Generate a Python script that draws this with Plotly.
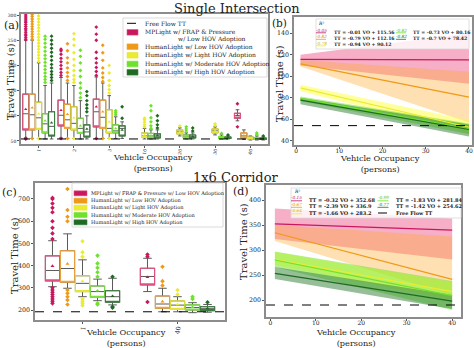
import plotly.graph_objects as go

W, H = 474, 348
FONT = "DejaVu Serif"

# ---------------- data ----------------
SERIES = ["MPLight w/ FRAP & Pressure w/ Low HOV Adoption",
          "HumanLight w/ Low HOV Adoption",
          "HumanLight w/ Light HOV Adoption",
          "HumanLight w/ Moderate HOV Adoption",
          "HumanLight w/ High HOV Adoption"]
MAIN_COLORS = ["#c8175d", "#ee9a16", "#ecec2e", "#6ee22a", "#1f6a21"]
EDGE_COLORS = ["#e2507f", "#f0a43c", "#e3e33a", "#7be040", "#3d7d3f"]
BAND_COLORS = ["rgba(236,64,122,0.42)", "rgba(255,167,38,0.35)",
               "rgba(255,255,40,0.45)", "rgba(110,226,42,0.5)",
               "rgba(46,125,50,0.5)"]

A_CATS = ["1", "2", "3", "10", "20", "30", "40"]
A_FREE_FLOW = 54
# rows: [category index, lower whisker, q1, median, q3, upper whisker, mean]
A_MP = [[0, 55, 72, 104, 143, 250, 113], [1, 56, 80, 101, 131, 176, 111],
        [2, 55, 78, 108, 133, 177, 118], [6, 90, 95, 100, 105, 112, 101]]
A_LOW = [[0, 55, 72, 102, 143, 250, 116], [1, 55, 75, 92, 123, 165, 103],
         [2, 55, 75, 97, 131, 165, 108], [6, 53, 56, 60, 66, 72, 61]]
A_LIGHT = [[0, 55, 73, 96, 127, 205, 104], [1, 55, 72, 85, 118, 160, 96],
           [2, 55, 66, 75, 112, 140, 88], [3, 54, 57, 60, 66, 75, 62],
           [4, 60, 64, 68, 72, 76, 68], [5, 62, 66, 70, 74, 78, 70],
           [6, 52, 54, 56, 58, 60, 56]]
A_MOD = [[0, 54, 66, 84, 104, 160, 90], [1, 54, 65, 75, 95, 130, 80],
         [2, 55, 66, 70, 82, 98, 75], [3, 54, 56, 60, 65, 72, 61],
         [4, 54, 56, 58, 62, 66, 59], [5, 54, 55, 57, 59, 62, 57],
         [6, 52, 53, 55, 57, 60, 55]]
A_HIGH = [[0, 54, 60, 79, 108, 165, 86], [1, 54, 58, 68, 82, 100, 74],
          [2, 55, 60, 75, 80, 88, 72], [3, 54, 56, 60, 64, 72, 61],
          [4, 54, 56, 58, 62, 66, 59], [5, 54, 55, 56, 58, 60, 56],
          [6, 52, 53, 55, 56, 58, 55]]
# outliers: [category index, [values]]
A_MP_OUT = [[0, [251, 255, 259, 262, 266, 270, 273, 277, 281, 285, 288, 292, 296, 300, 54, 56]],
            [1, [180, 186, 193, 200, 207, 214, 222, 229, 232, 55]],
            [2, [180, 188, 196, 205, 214, 226, 250, 262, 276, 55]],
            [6, [124, 78]]]
A_LOW_OUT = [[0, [252, 257, 262, 267, 272, 277, 282, 287, 292, 297, 301, 55]],
             [1, [170, 178, 186, 195, 205, 215, 229, 243, 55]],
             [2, [168, 176, 185, 195, 210, 225, 240, 55]]]
A_LIGHT_OUT = [[0, [208, 214, 220, 226, 232, 238, 244, 250, 256, 262, 268, 274, 280, 286, 292, 298, 55]],
               [1, [166, 172, 180, 190, 200, 212, 225, 240, 252, 263, 55]],
               [2, [145, 152, 160, 170, 185, 200, 55]],
               [3, [78, 82, 87, 92, 95]], [4, [80]], [5, [81, 84]]]
A_MOD_OUT = [[0, [166, 172, 178, 185, 192, 199, 206, 213, 220, 228, 236, 244, 252, 258]],
             [1, [136, 145, 155, 165, 178, 190, 205, 218, 230]],
             [2, [102, 106, 110]], [3, [75, 80, 88, 96, 110, 120]],
             [4, [70, 74, 78]], [5, [65]], [6, [63, 66]]]
A_HIGH_OUT = [[0, [170, 176, 182, 188, 195, 202, 210, 218, 226, 234, 242, 250, 258]],
              [1, [108, 115, 122, 130, 140, 148]], [2, [95, 118]],
              [3, [76, 82, 90, 100]], [4, [70, 76]], [5, [62]], [6, [60]]]

C_CATS = ["1", "40"]
C_FREE_FLOW = 192
C_MP = [[0, 305, 331, 378, 444, 512, 398], [1, 283, 313, 351, 388, 433, 348]]
C_LOW = [[0, 298, 325, 387, 467, 543, 408], [1, 192, 208, 227, 263, 298, 238]]
C_LIGHT = [[0, 260, 283, 320, 354, 426, 330], [1, 192, 203, 222, 241, 260, 225]]
C_MOD = [[0, 242, 257, 283, 308, 339, 287], [1, 188, 200, 211, 223, 233, 213]]
C_HIGH = [[0, 223, 235, 260, 287, 343, 262], [1, 190, 197, 206, 215, 225, 207]]
C_MP_OUT = [[0, [520, 545, 570, 600, 640, 660, 680, 700, 705, 300, 290, 280, 270, 260, 250, 240, 230]],
            [1, [450, 440, 236]]]
C_LOW_OUT = [[0, [600, 620, 650, 745, 290, 275, 260, 245, 225]], [1, [310, 330, 395]]]
C_LIGHT_OUT = [[0, [440, 460, 510, 250, 240, 230, 220]], [1, [270, 290]]]
C_MOD_OUT = [[0, [350, 370, 390, 410, 445, 230, 225]], [1, [250, 260]]]
C_HIGH_OUT = [[0, [350, 215, 210]], [1, [235]]]

B_FREE_FLOW = 54
B_SLOPE = [-0.01, -0.79, -0.94, -0.73, -0.7]
B_INTERCEPT = [115.56, 112.16, 90.12, 80.16, 78.42]
B_R2 = ["-0.05", "-0.82", "-0.78", "-0.82", "-0.82"]
B_VO = [1, 40]
B_UPPER = [[120, 140], [115, 104], [92, 59], [81, 56], [80, 55]]
B_LOWER = [[110, 93], [109, 57], [86, 47], [77, 46], [74, 44]]

D_FREE_FLOW = 190
D_SLOPE = [-0.32, -2.39, -1.66, -1.83, -1.42]
D_INTERCEPT = [352.68, 336.9, 283.2, 281.84, 254.62]
D_R2 = ["-0.15", "-0.67", "-0.64", "-0.99", "-0.77"]
D_VO = [1, 40]
D_UPPER = [[383, 363], [350, 327], [296, 235], [297, 238], [266, 210]]
D_LOWER = [[322, 281], [318, 210], [270, 200], [266, 180], [242, 182]]

# ---------------- helpers ----------------
def X(px):
    return px / W


def Y(py):
    return 1 - py / H


fig = go.Figure()
WHISKER = "#5a5a5a"


def add_boxes(rows, outs, h, step, width, xa, ya, msize):
    pos = [r[0] + (h - 2) * step for r in rows]
    lf = [r[1] for r in rows]
    q1 = [r[2] for r in rows]
    med = [r[3] for r in rows]
    q3 = [r[4] for r in rows]
    uf = [r[5] for r in rows]
    mean = [r[6] for r in rows]
    ox, oy = [], []
    for c, vals in outs:
        for v in vals:
            ox.append(c + (h - 2) * step)
            oy.append(v)
    fig.add_trace(go.Scatter(x=ox, y=oy, mode="markers", xaxis=xa, yaxis=ya,
                             marker=dict(symbol="diamond", size=msize, color=MAIN_COLORS[h],
                                         line=dict(width=0)),
                             showlegend=False, hoverinfo="skip"))
    fig.add_trace(go.Box(x=pos, q1=q1, median=med, q3=q3, lowerfence=lf, upperfence=uf,
                         xaxis=xa, yaxis=ya, width=width, fillcolor="rgba(255,255,255,0.92)",
                         line=dict(color=WHISKER, width=1), whiskerwidth=0.6,
                         boxpoints=False, showlegend=False))
    fig.add_trace(go.Box(x=pos, q1=q1, median=q1, q3=q3, lowerfence=q1, upperfence=q3,
                         xaxis=xa, yaxis=ya, width=width, fillcolor="rgba(0,0,0,0)",
                         line=dict(color=EDGE_COLORS[h], width=1.1), whiskerwidth=0,
                         boxpoints=False, showlegend=False))
    fig.add_trace(go.Scatter(x=pos, y=mean, mode="markers", xaxis=xa, yaxis=ya,
                             marker=dict(symbol="triangle-up", size=msize, color=MAIN_COLORS[h]),
                             showlegend=False, hoverinfo="skip"))


A_ROWS = [A_MP, A_LOW, A_LIGHT, A_MOD, A_HIGH]
A_OUTS = [A_MP_OUT, A_LOW_OUT, A_LIGHT_OUT, A_MOD_OUT, A_HIGH_OUT]
C_ROWS = [C_MP, C_LOW, C_LIGHT, C_MOD, C_HIGH]
C_OUTS = [C_MP_OUT, C_LOW_OUT, C_LIGHT_OUT, C_MOD_OUT, C_HIGH_OUT]

for h in range(5):
    add_boxes(A_ROWS[h], A_OUTS[h], h, 0.183, 0.17, "x", "y", 3)
for h in range(5):
    add_boxes(C_ROWS[h], C_OUTS[h], h, 0.158, 0.15, "x3", "y3", 3.5)

fig.add_trace(go.Scatter(x=[-0.5, len(A_CATS) - 0.5], y=[A_FREE_FLOW] * 2, mode="lines",
                         xaxis="x", yaxis="y", line=dict(color="black", width=1, dash="dash"),
                         showlegend=False, hoverinfo="skip"))
fig.add_trace(go.Scatter(x=[-0.5, len(C_CATS) - 0.5], y=[C_FREE_FLOW] * 2, mode="lines",
                         xaxis="x3", yaxis="y3", line=dict(color="black", width=1, dash="dash"),
                         showlegend=False, hoverinfo="skip"))


def add_regression(vo, upper, lower, slope, icpt, free, xa, ya, xr):
    for h in range(5):
        fig.add_trace(go.Scatter(x=vo + vo[::-1], y=upper[h] + lower[h][::-1], fill="toself",
                                 fillcolor=BAND_COLORS[h], line=dict(width=0), mode="lines",
                                 xaxis=xa, yaxis=ya, showlegend=False, hoverinfo="skip"))
    for h in range(5):
        fig.add_trace(go.Scatter(x=vo, y=[slope[h] * v + icpt[h] for v in vo], mode="lines",
                                 line=dict(color=MAIN_COLORS[h], width=1.2),
                                 xaxis=xa, yaxis=ya, showlegend=False, hoverinfo="skip"))
    fig.add_trace(go.Scatter(x=xr, y=[free] * 2, mode="lines", xaxis=xa, yaxis=ya,
                             line=dict(color="black", width=1, dash="dash"),
                             showlegend=False, hoverinfo="skip"))


add_regression(B_VO, B_UPPER, B_LOWER, B_SLOPE, B_INTERCEPT, B_FREE_FLOW, "x2", "y2", [-0.5, 40.7])
add_regression(D_VO, D_UPPER, D_LOWER, D_SLOPE, D_INTERCEPT, D_FREE_FLOW, "x4", "y4", [-0.95, 41.95])

# ---------------- axes ----------------
AX = dict(showline=True, mirror=True, linecolor="#8c8c8c", linewidth=1.5, showgrid=False,
          zeroline=False, ticks="outside", ticklen=2, tickcolor="#555",
          tickfont=dict(family=FONT, size=6.3, color="#222"))


def ax(**kw):
    d = dict(AX)
    d.update(kw)
    return d


fig.update_layout(
    width=W, height=H, margin=dict(l=0, r=0, t=0, b=0),
    paper_bgcolor="white", plot_bgcolor="white", boxmode="overlay",
    font=dict(family=FONT, color="#222"),
    xaxis=ax(domain=[X(21), X(268)], range=[-0.5, 6.5], anchor="y",
             tickvals=list(range(len(A_CATS))), ticktext=A_CATS, tickangle=-80,
             tickfont=dict(family=FONT, size=4.5), ticklabelstandoff=-2),
    yaxis=ax(domain=[Y(144), Y(14)], range=[44, 302], anchor="x",
             tickvals=[50, 100, 150, 200, 250, 300], tickfont=dict(family=FONT, size=4.5)),
    xaxis2=ax(domain=[X(294), X(472)], range=[-0.5, 40.7], anchor="y2",
              tickvals=[0, 10, 20, 30, 40], ticklabelstandoff=-3,
              tickfont=dict(family=FONT, size=6, color="#222")),
    yaxis2=ax(domain=[Y(145), Y(17)], range=[36, 155], anchor="x2",
              tickvals=[40, 60, 80, 100, 120, 140]),
    xaxis3=ax(domain=[X(35), X(225)], range=[-0.5, 1.5], anchor="y3",
              tickvals=[0, 1], ticktext=C_CATS, tickangle=-80, ticklabelstandoff=-2),
    yaxis3=ax(domain=[Y(320), Y(183)], range=[155, 772], anchor="x3",
              tickvals=[200, 300, 400, 500, 600, 700]),
    xaxis4=ax(domain=[X(266), X(461)], range=[-0.95, 41.95], anchor="y4",
              tickvals=[0, 10, 20, 30, 40], ticklabelstandoff=-3,
              tickfont=dict(family=FONT, size=6, color="#222")),
    yaxis4=ax(domain=[Y(317), Y(185)], range=[166, 430], anchor="x4",
              tickvals=[200, 250, 300, 350, 400]),
)

ann = []
shapes = []


def text(px, py, s, size, xanchor="center", color="#222", angle=0):
    ann.append(dict(x=X(px), y=Y(py), xref="paper", yref="paper", text=s, showarrow=False,
                    xanchor=xanchor, yanchor="middle", textangle=angle,
                    font=dict(family=FONT, size=size, color=color)))


text(237, 9, "Single Intersection", 13)
text(236, 177, "1x6 Corridor", 13)
text(11, 25, "(a)", 11)
text(279, 23, "(b)", 10.5)
text(9, 192, "(c)", 11)
text(241, 191, "(d)", 11)
for px, py in [(10, 82), (279, 84), (14, 256), (243, 241)]:
    text(px, py, "Travel Time (s)", 10, angle=-90)
for px, py in [(153, 162.5), (380, 163), (126, 337), (356, 337)]:
    text(px, py, "Vehicle Occupancy<br>(persons)", 8.2)


def rect(x0, y0, x1, y1, fill, line, lw=0.8):
    shapes.append(dict(type="rect", xref="paper", yref="paper", x0=X(x0), x1=X(x1),
                       y0=Y(y1), y1=Y(y0), fillcolor=fill, line=dict(color=line, width=lw)))


def hline(x0, x1, py, color, dash="solid", lw=1):
    shapes.append(dict(type="line", xref="paper", yref="paper", x0=X(x0), x1=X(x1),
                       y0=Y(py), y1=Y(py), line=dict(color=color, width=lw, dash=dash)))


# legend (a)
rect(123, 18, 267, 77, "rgba(255,255,255,0.9)", "#d0d0d0")
hline(127, 138, 23.3, "black", "dash")
text(143, 23.3, "Free Flow TT", 6, "left")
A_LEG_Y = [32.3, 46.7, 55.3, 64, 72.3]
for h in range(5):
    rect(127, A_LEG_Y[h] - 2.8, 138, A_LEG_Y[h] + 2.8, MAIN_COLORS[h], EDGE_COLORS[h], 0.6)
text(143, A_LEG_Y[0], "MPLight w/ FRAP & Pressure", 6, "left")
text(176, 39, "w/ Low HOV Adoption", 6, "left")
for h in range(1, 5):
    text(143, A_LEG_Y[h], SERIES[h], 6, "left")

# legend (c)
rect(72, 183, 223, 227, "rgba(255,255,255,0.9)", "#d0d0d0")
C_LEG_Y = [193.3, 200.7, 207.7, 215, 222.3]
for h in range(5):
    rect(74, C_LEG_Y[h] - 2.5, 87, C_LEG_Y[h] + 2.5, MAIN_COLORS[h], EDGE_COLORS[h], 0.6)
    text(89.3, C_LEG_Y[h], SERIES[h], 5, "left")

R2_TEXT_COLORS = ["#c8175d", "#e08a00", "#c9b800", "#4cbf10", "#1f6a21"]


def eq(a, b):
    return "TT = " + str(a) + " VO + " + str(b)


# legend (b)
rect(316, 19, 469, 49, "rgba(255,255,255,0.8)", "#d8d8d8")
text(321, 23, "<i>R²</i>", 4.5)
B_ROWS_Y = [32, 38.5, 45, 32, 38.5]
B_R2_X = [321, 321, 321, 401, 401]
B_TT_X = [332, 332, 332, 411, 411]
for h in range(5):
    yy = B_ROWS_Y[h]
    text(B_R2_X[h], yy - 2, "<i>" + B_R2[h] + "</i>", 4.3, color=R2_TEXT_COLORS[h])
    hline(B_R2_X[h] - 5, B_R2_X[h] + 5, yy + 0.8, MAIN_COLORS[h], lw=0.8)
    text(B_TT_X[h], yy, "<b>" + eq(B_SLOPE[h], B_INTERCEPT[h]) + "</b>", 4.6, "left")

# legend (d)
rect(291, 188, 461, 218, "rgba(255,255,255,0.8)", "#d8d8d8")
text(297, 191, "<i>R²</i>", 4.5)
D_ROWS_Y = [200, 206.5, 213, 200, 206.5]
D_R2_X = [296.5, 296.5, 296.5, 383, 383]
D_TT_X = [307, 307, 307, 394, 394]
for h in range(5):
    yy = D_ROWS_Y[h]
    text(D_R2_X[h], yy - 2.2, "<i>" + D_R2[h] + "</i>", 4.3, color=R2_TEXT_COLORS[h])
    hline(D_R2_X[h] - 5.5, D_R2_X[h] + 5.5, yy + 0.8, MAIN_COLORS[h], lw=0.8)
    text(D_TT_X[h], yy, "<b>" + eq(D_SLOPE[h], D_INTERCEPT[h]) + "</b>", 5, "left")
hline(378, 390, 213, "black", "dash")
text(394, 213, "<b>Free Flow TT</b>", 5, "left")

fig.update_layout(annotations=ann, shapes=shapes)
fig.write_html("out.html")
